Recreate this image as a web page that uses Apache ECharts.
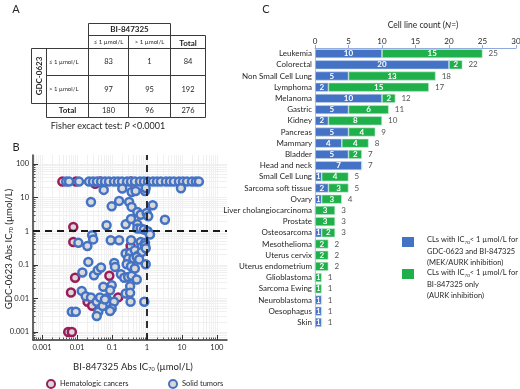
<!DOCTYPE html>
<html><head><meta charset="utf-8">
<script src="https://cdn.jsdelivr.net/npm/echarts@6/dist/echarts.min.js"></script>
<style>html,body{margin:0;padding:0;background:#fff}#c{width:520px;height:389px}</style>
</head><body><div id="c"></div><script>
const FONT = 'Lato, "Liberation Sans", sans-serif';
const TXT = '#262626';

// ---------- Panel A: contingency table ----------
const tableTitleCol = 'BI-847325';
const tableTitleRow = 'GDC-0623';
const tableColHeaders = ['≤ 1 µmol/L', '> 1 µmol/L', 'Total'];
const tableRowHeaders = ['≤ 1 µmol/L', '> 1 µmol/L', 'Total'];
const tableRow1 = [83, 1, 84];
const tableRow2 = [97, 95, 192];
const tableTotal = [180, 96, 276];
const fisherText = 'Fisher excact test: {i|P} <0.0001';

// ---------- Panel B: scatter (µmol/L) ----------
const xTickLabels = ['0.001', '0.01', '0.1', '1', '10', '100'];
const yTickLabels = ['0.001', '0.01', '0.1', '1', '10', '100'];
const topRowIC70 = 30; // GDC-0623 IC70 for the capped top row
const solidTopRowX = [0.0049, 0.0059, 0.0114, 0.022, 0.0286, 0.037, 0.0485, 0.063, 0.082, 0.114,
  0.148, 0.193, 0.268, 0.349, 0.454, 0.63, 0.82, 1.07, 1.48, 1.93, 2.51, 3.49, 4.54, 5.9, 8.2,
  10.7, 13.9, 19.3, 25.1, 30.6];
const solidPoints = [
  [0.058, 17], [0.197, 18.7], [0.365, 14.8], [0.475, 15.8], [0.88, 15.8], [0.92, 19.4], [9.4, 19],
  [0.098, 5.5], [0.16, 8.0], [0.31, 7.4], [0.365, 5.3], [0.53, 3.75], [0.66, 3.1], [0.98, 3.5],
  [1.09, 2.8], [1.46, 5.9], [3.27, 2.2],
  [0.07, 1.5], [0.246, 1.6], [0.35, 2.3], [0.53, 1.6], [0.53, 1.2], [0.66, 1.2], [0.82, 1.12],
  [1.05, 1.0], [1.22, 0.8],
  [0.092, 0.54], [0.16, 0.54], [0.35, 0.54], [0.66, 0.48], [0.88, 0.45],
  [0.025, 7.4], [0.027, 0.76], [0.029, 0.57], [0.0109, 0.45],
  [0.0197, 0.36], [0.021, 0.122], [0.0142, 0.059], [0.0306, 0.049], [0.039, 0.069], [0.0485, 0.083],
  [0.0136, 0.0167], [0.0177, 0.0116], [0.025, 0.0106], [0.0366, 0.0079], [0.0454, 0.0106],
  [0.07, 0.01], [0.0564, 0.022],
  [0.0406, 0.004], [0.0366, 0.003], [0.054, 0.0059], [0.088, 0.0045], [0.0071, 0.004], [0.0092, 0.004],
  [0.71, 0.34], [0.88, 0.38], [0.246, 0.217], [0.33, 0.226], [0.45, 0.27], [0.56, 0.19], [0.71, 0.24],
  [0.92, 0.31], [0.29, 0.154], [0.41, 0.154], [0.51, 0.17], [0.6, 0.144], [0.92, 0.104],
  [0.116, 0.114], [0.122, 0.0866], [0.18, 0.0525], [0.224, 0.041], [0.29, 0.0436], [0.365, 0.047],
  [0.51, 0.0365], [0.263, 0.104], [0.35, 0.091], [0.45, 0.078],
  [0.098, 0.0247], [0.088, 0.0175], [0.33, 0.023], [0.246, 0.014], [0.33, 0.0146], [0.063, 0.0093],
  [0.114, 0.0079], [0.098, 0.005], [0.088, 0.0042], [0.34, 0.0079], [0.84, 0.0079]
];
const hemaPoints = [
  [0.0038, 30], [0.0093, 30], [0.045, 30], [0.35, 30], [0.033, 26],
  [0.0078, 1.34], [0.0078, 0.48], [0.34, 0.365], [0.0088, 0.041], [0.084, 0.047],
  [0.0067, 0.015], [0.02, 0.0079], [0.027, 0.006], [0.15, 0.0107], [0.0056, 0.001], [0.0071, 0.001]
];

// ---------- Panel C: bar chart ----------
const categories = ['Leukemia', 'Colorectal', 'Non Small Cell Lung', 'Lymphoma', 'Melanoma', 'Gastric',
  'Kidney', 'Pancreas', 'Mammary', 'Bladder', 'Head and neck', 'Small Cell Lung', 'Sarcoma soft tissue',
  'Ovary', 'Liver cholangiocarcinoma', 'Prostate', 'Osteosarcoma', 'Mesothelioma', 'Uterus cervix',
  'Uterus endometrium', 'Glioblastoma', 'Sarcoma Ewing', 'Neuroblastoma', 'Oesophagus', 'Skin'];
const mekAurkCounts = [10, 20, 5, 2, 10, 5, 2, 5, 4, 5, 7, 1, 2, 1, 0, 0, 1, 0, 0, 0, 0, 0, 1, 1, 1];
const aurkOnlyCounts = [15, 2, 13, 15, 2, 6, 8, 4, 4, 2, 0, 4, 3, 3, 3, 3, 2, 2, 2, 2, 1, 1, 0, 0, 0];
const countTicks = [0, 5, 10, 15, 20, 25, 30];
const totals = mekAurkCounts.map((v, i) => v + aurkOnlyCounts[i]);

const BLUE = '#4472c4', GREEN = '#1fb04c', RED = '#9b1c5b', RING = '#d9d9d9';

const lg = v => Math.log10(v);
const xMajor = xTickLabels.map(s => lg(parseFloat(s)));
const yMajor = yTickLabels.map(s => lg(parseFloat(s)));
const X0 = -3.26, X1 = 2.29, Y0 = -3.24, Y1 = 2.27;
function minorList(a, b) {
  const out = [];
  for (let e = -4; e <= 2; e++) for (let k = 1; k <= 9; k++) {
    const v = Math.log10(k) + e; if (v >= a && v <= b) out.push(v);
  }
  return out;
}
const xMinor = minorList(X0, X1), yMinor = minorList(Y0, Y1);
const labelOf = (vals, labels) => v => { const i = vals.findIndex(t => Math.abs(t - v) < 1e-6); return i >= 0 ? labels[i] : ''; };

// ---------- graphics ----------
const G = [];
function txt(x, y, text, o = {}) {
  G.push({ type: 'text', x, y, rotation: o.rot || 0, silent: true, z: 10,
    style: { text, x: 0, y: 0, fill: o.color || TXT, fontSize: o.size || 8, fontFamily: FONT,
      fontWeight: o.bold ? 'bold' : 'normal', fontStyle: o.italic ? 'italic' : 'normal',
      align: o.align || 'center', verticalAlign: o.va || 'middle',
      textAlign: o.align || 'center', textVerticalAlign: o.va || 'middle',
      lineHeight: o.lh, rich: o.rich } });
}
function ln(x1, y1, x2, y2, c = '#3a3a3a', w = 1) {
  G.push({ type: 'line', silent: true, z: 10, shape: { x1, y1, x2, y2 }, style: { stroke: c, lineWidth: w } });
}
// panel letters
txt(16, 9, 'A', { size: 11 });
txt(16, 147, 'B', { size: 11 });
txt(266, 9, 'C', { size: 11 });
// table grid
[[88.5, 23.5, 170.5, 23.5], [88.5, 35.5, 205.5, 35.5], [31.5, 48.5, 205.5, 48.5], [46.5, 75.5, 205.5, 75.5],
 [31.5, 103.5, 205.5, 103.5], [46.5, 117.5, 205.5, 117.5],
 [31.5, 48.5, 31.5, 103.5], [46.5, 48.5, 46.5, 117.5], [88.5, 23.5, 88.5, 117.5], [128.5, 35.5, 128.5, 117.5],
 [170.5, 23.5, 170.5, 117.5], [205.5, 35.5, 205.5, 117.5]].forEach(a => ln(...a));
const colX = [108.5, 149.5, 188];
txt(129.5, 29.5, tableTitleCol, { bold: true, size: 8 });
txt(colX[0], 42, tableColHeaders[0], { size: 6 });
txt(colX[1], 42, tableColHeaders[1], { size: 6 });
txt(colX[2], 43, tableColHeaders[2], { size: 8, bold: true });
txt(39, 76, tableTitleRow, { bold: true, size: 8, rot: Math.PI / 2 });
txt(49, 62, tableRowHeaders[0], { size: 6, align: 'left' });
txt(49, 89.5, tableRowHeaders[1], { size: 6, align: 'left' });
txt(67.5, 110.5, tableRowHeaders[2], { size: 8, bold: true });
[tableRow1, tableRow2, tableTotal].forEach((row, r) => {
  const y = [62, 89.5, 110.5][r];
  row.forEach((v, c) => txt(colX[c], y, String(v), { size: 7.5 }));
});
txt(108, 126, fisherText, { size: 9, rich: { i: { fontStyle: 'italic', fontSize: 9, fontFamily: FONT, fill: TXT } } });
// panel B axis titles
const subRich = { s: { fontSize: 5.5, fontFamily: FONT, fill: TXT, verticalAlign: 'bottom', padding: [4, 0, 0, 0] } };
txt(133, 367, 'BI-847325 Abs IC{s|70} (µmol/L)', { size: 9.5, rich: subRich });
txt(9, 249, 'GDC-0623 Abs IC{s|70} (µmol/L)', { size: 9.5, rot: Math.PI / 2, rich: subRich });
// panel C axis title
txt(423, 25, 'Cell line count ({i|N}=)', { size: 8.5, rich: { i: { fontStyle: 'italic', fontSize: 8.5, fontFamily: FONT, fill: TXT } } });
// panel C legend
G.push({ type: 'rect', silent: true, shape: { x: 402, y: 237, width: 12, height: 10 }, style: { fill: BLUE } });
G.push({ type: 'rect', silent: true, shape: { x: 402, y: 269, width: 12, height: 10 }, style: { fill: GREEN } });
const legRich = { s: { fontSize: 4.5, fontFamily: FONT, fill: TXT, verticalAlign: 'bottom' } };
txt(427, 234, 'CLs with IC{s|70}< 1 µmol/L for\nGDC-0623 and BI-847325\n(MEK/AURK inhibition)', { size: 7.5, align: 'left', va: 'top', lh: 11.5, rich: legRich });
txt(427, 267, 'CLs with IC{s|70}< 1 µmol/L for\nBI-847325 only\n(AURK inhibition)', { size: 7.5, align: 'left', va: 'top', lh: 11.5, rich: legRich });

const gridLine = { show: true, lineStyle: { color: '#f0f0f0', width: 1 } };
const option = {
  animation: false,
  textStyle: { fontFamily: FONT },
  graphic: { elements: G },
  grid: [
    { left: 33, right: 293, top: 155, bottom: 49, outerBoundsMode: 'none', containLabel: false },
    { left: 315, right: 4, top: 48, bottom: 61, outerBoundsMode: 'none', containLabel: false }
  ],
  legend: [
    { data: ['Hematologic cancers'], left: 46, top: 379, icon: 'circle', itemWidth: 8, itemHeight: 8, padding: 0,
      textStyle: { fontSize: 7.5, color: TXT, fontFamily: FONT } },
    { data: ['Solid tumors'], left: 168, top: 379, icon: 'circle', itemWidth: 8, itemHeight: 8, padding: 0,
      textStyle: { fontSize: 7.5, color: TXT, fontFamily: FONT } }
  ],
  xAxis: [
    { gridIndex: 0, type: 'value', min: X0, max: X1, position: 'bottom',
      axisLine: { show: true, onZero: false, lineStyle: { color: '#333', width: 1.5 } },
      axisTick: { show: true, inside: true, length: 2.5, customValues: xMinor, lineStyle: { color: '#555' } },
      splitLine: gridLine,
      axisLabel: { customValues: xMajor, formatter: labelOf(xMajor, xTickLabels), fontSize: 7.5, color: TXT, margin: 4 } },
    { gridIndex: 0, type: 'value', min: X0, max: X1, position: 'bottom',
      axisLine: { show: false, onZero: false }, splitLine: { show: false }, axisLabel: { show: false },
      axisTick: { show: true, inside: true, length: 5, customValues: xMajor, lineStyle: { color: '#333' } } },
    { gridIndex: 1, type: 'value', min: 0, max: 30, interval: 5, position: 'top',
      axisLine: { show: true, onZero: false, lineStyle: { color: '#8faadc', width: 1 } },
      axisTick: { show: true, length: 3, lineStyle: { color: '#8faadc' } },
      splitLine: { show: false },
      axisLabel: { fontSize: 8, color: TXT, margin: 3, customValues: countTicks } }
  ],
  yAxis: [
    { gridIndex: 0, type: 'value', min: Y0, max: Y1, position: 'left',
      axisLine: { show: true, onZero: false, lineStyle: { color: '#333', width: 1.5 } },
      axisTick: { show: true, inside: true, length: 2.5, customValues: yMinor, lineStyle: { color: '#555' } },
      splitLine: gridLine,
      axisLabel: { customValues: yMajor, formatter: labelOf(yMajor, yTickLabels), fontSize: 7.5, color: TXT, margin: 4 } },
    { gridIndex: 0, type: 'value', min: Y0, max: Y1, position: 'left',
      axisLine: { show: false, onZero: false }, splitLine: { show: false }, axisLabel: { show: false },
      axisTick: { show: true, inside: true, length: 5, customValues: yMajor, lineStyle: { color: '#333' } } },
    { gridIndex: 1, type: 'category', data: categories, inverse: true,
      axisLine: { show: true, onZero: false, lineStyle: { color: '#bfbfbf' } }, axisTick: { show: false },
      axisLabel: { fontSize: 8, color: TXT, margin: 3, interval: 0 } }
  ],
  series: [
    { type: 'scatter', name: 'Hematologic cancers', xAxisIndex: 0, yAxisIndex: 0, symbolSize: 8,
      data: hemaPoints.map(p => [lg(p[0]), lg(p[1])]),
      itemStyle: { color: RING, borderColor: RED, borderWidth: 2.5, opacity: 1 } },
    { type: 'scatter', name: 'Solid tumors', xAxisIndex: 0, yAxisIndex: 0, symbolSize: 8,
      data: solidTopRowX.map(x => [lg(x), lg(topRowIC70)]).concat(solidPoints.map(p => [lg(p[0]), lg(p[1])])),
      itemStyle: { color: RING, borderColor: BLUE, borderWidth: 2.5, opacity: 1 },
      markLine: { silent: true, symbol: ['none', 'none'], label: { show: false }, animation: false,
        lineStyle: { color: '#1a1a1a', type: [7, 5], width: 1.8 },
        data: [{ xAxis: lg(1) }, { yAxis: lg(1) }] } },
    { type: 'bar', name: 'MEK/AURK', xAxisIndex: 2, yAxisIndex: 2, stack: 'cl', barWidth: 9,
      data: mekAurkCounts, itemStyle: { color: BLUE, borderColor: '#c9d6ee', borderWidth: 0.6 },
      label: { show: true, position: 'inside', color: '#fff', fontWeight: 'bold', fontSize: 8,
        formatter: p => (p.value > 0 ? String(p.value) : '') } },
    { type: 'bar', name: 'AURK only', xAxisIndex: 2, yAxisIndex: 2, stack: 'cl', barWidth: 9,
      data: aurkOnlyCounts, itemStyle: { color: GREEN, borderColor: '#c8ecd2', borderWidth: 0.6 },
      label: { show: true, position: 'inside', color: '#fff', fontWeight: 'bold', fontSize: 8,
        formatter: p => (p.value > 0 ? String(p.value) : '') } },
    { type: 'scatter', name: 'Total', xAxisIndex: 2, yAxisIndex: 2, symbolSize: 0.1,
      itemStyle: { color: 'rgba(0,0,0,0)' },
      data: totals.map((t, i) => [t, i]),
      label: { show: true, position: 'right', distance: 6, color: TXT, fontSize: 8,
        formatter: p => String(p.value[0]) } }
  ]
};
const chart = echarts.init(document.getElementById('c'), null, { renderer: 'canvas' });
chart.setOption(option);
</script></body></html>
